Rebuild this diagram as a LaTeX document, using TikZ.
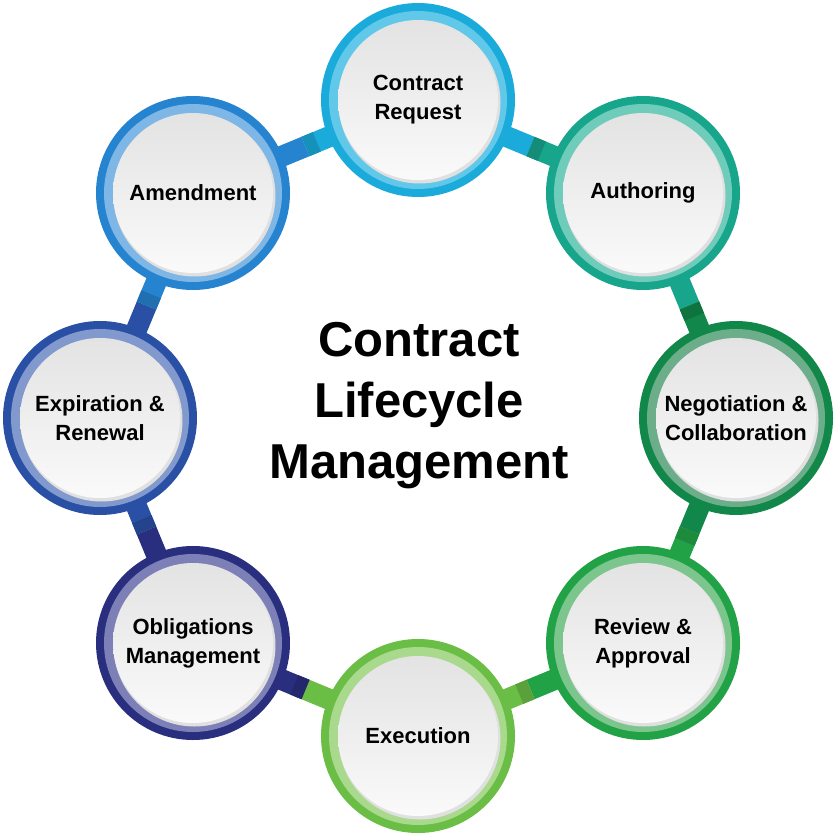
\documentclass[tikz,border=0pt]{standalone}
\usepackage{fontspec}
\setmainfont{Liberation Sans}
\usetikzlibrary{calc,backgrounds}
\definecolor{cA}{HTML}{1AABDB}\definecolor{bA}{HTML}{62C8EA}
\definecolor{cB}{HTML}{17A58C}\definecolor{bB}{HTML}{70CCBA}
\definecolor{cC}{HTML}{12874A}\definecolor{bC}{HTML}{6DAE8A}
\definecolor{cD}{HTML}{22A246}\definecolor{bD}{HTML}{7CC68E}
\definecolor{cE}{HTML}{6BBE45}\definecolor{bE}{HTML}{A9D98C}
\definecolor{cF}{HTML}{2A2E7E}\definecolor{bF}{HTML}{7C80B6}
\definecolor{cG}{HTML}{2950A5}\definecolor{bG}{HTML}{8299CE}
\definecolor{cH}{HTML}{2683CF}\definecolor{bH}{HTML}{7EB6E5}
\tikzset{
  stage/.style n args={2}{circle, minimum size=194pt, inner sep=0pt, fill=#1,
    align=center, font=\bfseries\fontsize{22}{29}\selectfont,
    path picture={
      \fill[#2] (path picture bounding box.center) circle[radius=89pt];
      \fill[black!12] ($(path picture bounding box.center)+(1.5pt,-2.5pt)$) circle[radius=81pt];
      \shade[top color=white!89!black, bottom color=white!98!black]
        (path picture bounding box.center) circle[radius=80pt];
    }},
  link/.style={line width=21pt, draw=#1},
  title/.style={align=center, font=\bfseries\fontsize{49}{61}\selectfont}
}
\begin{document}
\begin{tikzpicture}[x=1pt,y=-1pt]
\useasboundingbox (0,0) rectangle (837,837);
\node[stage={cA}{bA}] (s1) at (418,100) {Contract\\Request};
\node[stage={cB}{bB}] (s2) at (643,193) {Authoring};
\node[stage={cC}{bC}] (s3) at (736,418) {Negotiation \&\\Collaboration};
\node[stage={cD}{bD}] (s4) at (643,643) {Review \&\\Approval};
\node[stage={cE}{bE}] (s5) at (418,736) {Execution};
\node[stage={cF}{bF}] (s6) at (193,643) {Obligations\\Management};
\node[stage={cG}{bG}] (s7) at (100,418) {Expiration \&\\Renewal};
\node[stage={cH}{bH}] (s8) at (193,193) {Amendment};
\node[title] (t) at (419,406) {Contract\\Lifecycle\\Management};
\begin{scope}[on background layer]
\foreach \a/\b/\ca/\cb in {s1/s2/cA/cB, s2/s3/cB/cC, s3/s4/cC/cD, s4/s5/cD/cE,
                           s5/s6/cE/cF, s6/s7/cF/cG, s7/s8/cG/cH, s8/s1/cH/cA}{
  \draw[link=\ca] (\a.center) -- ($(\a.center)!0.5!(\b.center)$);
  \draw[link=\cb] ($(\a.center)!0.5!(\b.center)$) -- (\b.center);
  \draw[link=\cb!85!black] ($(\a.center)!0.5!(\b.center)$) -- ($(\a.center)!0.55!(\b.center)$);
}
\end{scope}
\end{tikzpicture}
\end{document}
